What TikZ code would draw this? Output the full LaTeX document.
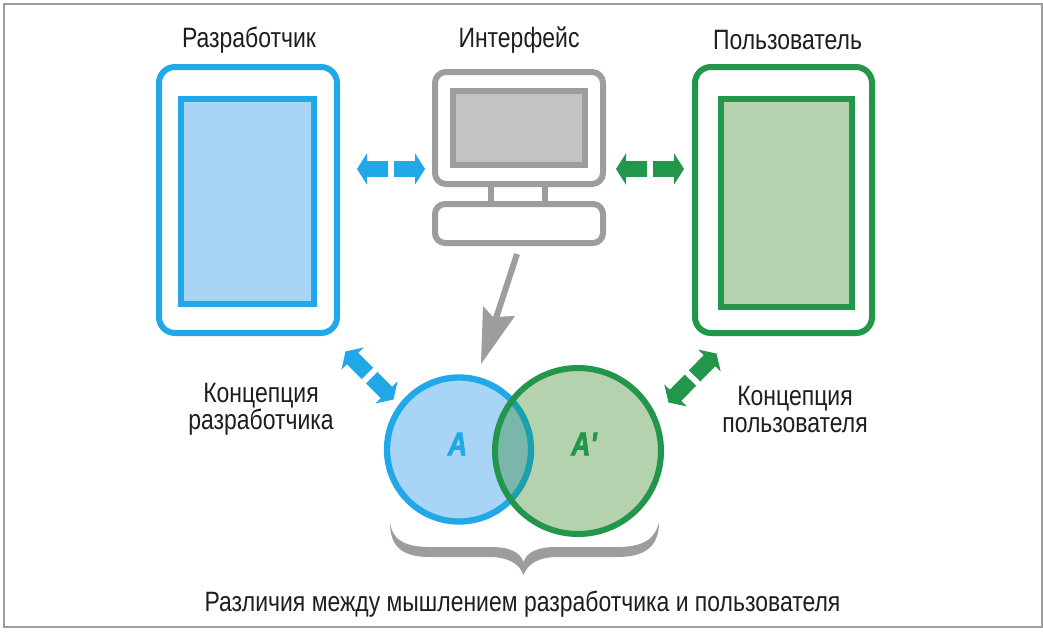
\documentclass[tikz,border=0pt]{standalone}
\usepackage{fontspec}
\setmainfont[FakeStretch=0.82]{Liberation Sans}
\newfontfamily\vennfont[FakeStretch=0.8,FakeBold=2.2]{Liberation Sans}
\usetikzlibrary{arrows.meta,calc}
\definecolor{cblue}{RGB}{32,168,232}
\definecolor{lblue}{RGB}{168,212,246}
\definecolor{cgreen}{RGB}{34,150,74}
\definecolor{lgreen}{RGB}{181,210,174}
\definecolor{cgray}{RGB}{157,157,157}
\definecolor{lgray}{RGB}{195,195,197}
\definecolor{overlapfill}{RGB}{123,182,171}
\definecolor{overlapline}{RGB}{26,160,175}
\definecolor{ctext}{RGB}{30,30,30}
\tikzset{
  x=1pt,y=-1pt,
  box/.style={rectangle,draw,inner sep=0pt,outer sep=0pt,line width=6pt,fill=white,rounded corners=#1},
  box/.default=16pt,
  tablet/.style={box,minimum width=178pt,minimum height=266pt},
  panel/.style={rectangle,draw,inner sep=0pt,outer sep=0pt,line width=6.5pt},
  devpanel/.style={panel,draw=cblue,fill=lblue,minimum width=133pt,minimum height=205pt},
  userpanel/.style={panel,draw=cgreen,fill=lgreen,minimum width=131pt,minimum height=208pt},
  monitor/.style={box=11pt,draw=cgray,minimum width=168pt,minimum height=112pt},
  screen/.style={panel,draw=cgray,fill=lgray,minimum width=132pt,minimum height=74pt},
  keyboard/.style={box=10pt,draw=cgray,minimum width=168pt,minimum height=39pt},
  stand/.style={draw=cgray,line width=6pt},
  label/.style={text=ctext,inner sep=0pt,font=\fontsize{28}{27}\selectfont,align=center},
  venntext/.style={inner sep=0pt,font=\vennfont\bfseries\itshape\fontsize{33}{33}\selectfont},
  halfarrow/.style={line width=16pt,-{Triangle[length=10pt,width=31pt]}},
  pointer/.style={draw=cgray,line width=6pt,line cap=butt},
}
\newcommand{\dblarrow}[3]{%
  \draw[halfarrow,#1] ($(#2)!0.5!(#3)!3pt!(#2)$) -- (#2);
  \draw[halfarrow,#1] ($(#2)!0.5!(#3)!3pt!(#3)$) -- (#3);
}
\begin{document}
\begin{tikzpicture}
\useasboundingbox (0,0) rectangle (1043,632);
\fill[white] (0,0) rectangle (1043,632);
\draw[cgray,line width=2pt] (3.5,3.5) rectangle (1041.5,627);

% tablets
\node[tablet,draw=cblue] (dev) at (248,200) {};
\node[devpanel] (devscreen) at (247.5,201.5) {};
\node[tablet,draw=cgreen,minimum width=177pt] (user) at (783.5,200) {};
\node[userpanel] (userscreen) at (786.5,203) {};

% computer
\draw[stand] (491,186) -- (491,202) (545,186) -- (545,202);
\node[monitor] (mon) at (519,128) {};
\node[screen] (scr) at (519,128) {};
\node[keyboard] (kbd) at (519,223.5) {};

% titles
\node[label] (tdev) at (249,40.5) {Разработчик};
\node[label] (tif) at (519,40.5) {Интерфейс};
\node[label] (tuser) at (787.5,40.5) {Пользователь};
\node[label] (cdev) at (261,409) {Концепция\\разработчика};
\node[label] (cuser) at (795,409) {Концепция\\пользователя};
\node[label] (tdiff) at (522.5,604) {Различия между мышлением разработчика и пользователя};

% double arrows
\coordinate (a1) at (357,169); \coordinate (a2) at (425,169);
\coordinate (b1) at (616,169); \coordinate (b2) at (684,169);
\coordinate (c1) at (345.5,351.5); \coordinate (c2) at (393.5,399.5);
\coordinate (d1) at (716.5,353.5); \coordinate (d2) at (668.5,402.5);
\dblarrow{cblue}{a1}{a2}
\dblarrow{cgreen}{b1}{b2}
\dblarrow{cblue}{c1}{c2}
\dblarrow{cgreen}{d1}{d2}

% venn
\node[circle,draw=cblue,fill=lblue,line width=6.3pt,minimum size=144pt,inner sep=0pt] (va) at (459,449.5) {};
\fill[lgreen] (578,451) circle[radius=83];
\begin{scope}
  \clip (578,451) circle[radius=83];
  \draw[draw=overlapline,fill=overlapfill,line width=6.3pt] (459,449.5) circle[radius=72];
\end{scope}
\node[circle,draw=cgreen,line width=6pt,minimum size=166pt,inner sep=0pt] (vb) at (578,451) {};
\node[venntext,text=cblue] (la) at (457.5,444) {A};
\node[venntext,text=cgreen] (lb) at (584,444) {A'};

% pointer from the keyboard to the venn
\coordinate (ptail) at (517,254);
\coordinate (ptip) at (481,364);
\draw[pointer] (ptail) -- ($(ptail)!0.62!(ptip)$);
\fill[cgray] (ptip) -- (483,306) -- (493,317) -- (515,316) -- cycle;

% brace
\fill[cgray] (390,522) .. controls (392,540) and (405,547) .. (430,547)
  -- (490,547) .. controls (510,547) and (520,552) .. (523.5,562)
  .. controls (527,552) and (537,547) .. (557,547)
  -- (617,547) .. controls (642,547) and (655,540) .. (659,522)
  .. controls (659,545) and (647,557) .. (617,557)
  -- (557,557) .. controls (542,557) and (528,562) .. (523.5,575)
  .. controls (519,562) and (505,557) .. (490,557)
  -- (430,557) .. controls (400,557) and (390,545) .. (390,522) -- cycle;
\end{tikzpicture}
\end{document}
